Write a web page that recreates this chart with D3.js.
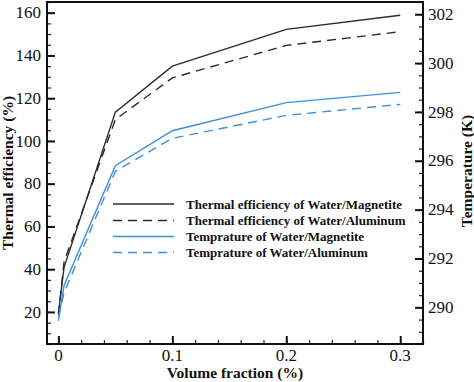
<!DOCTYPE html>
<html lang="en">
<head>
<meta charset="UTF-8">
<title>Thermal efficiency and temperature vs volume fraction</title>
<script src="https://cdn.jsdelivr.net/npm/d3@7"></script>
<style>
  body { margin: 0; background: #fff; }
</style>
</head>
<body>
<div id="chart"></div>
<script>
// values
const volumeFraction = [0, 0.005, 0.05, 0.1, 0.2, 0.3];
const effMagnetite = [19.5, 41, 113.5, 135, 152.2, 158.8];
const effAluminum = [18.5, 43.5, 110, 129.5, 144.7, 151.1];
const tempMagnetite = [289.45, 290.9, 295.8, 297.23, 298.38, 298.8];
const tempAluminum = [289.6, 290.6, 295.57, 296.92, 297.86, 298.31];

const xTicks = [0, 0.1, 0.2, 0.3];
const leftTicks = [20, 40, 60, 80, 100, 120, 140, 160];
const rightTicks = [290, 292, 294, 296, 298, 300, 302];

const legendLabels = [
  "Thermal efficiency of Water/Magnetite",
  "Thermal efficiency of Water/Aluminum",
  "Temprature of Water/Magnetite",
  "Temprature of Water/Aluminum"
];

let width = 474;
let height = 382;
let margin = { top: 2, right: 51, bottom: 38, left: 47 };

const serif = "'Liberation Serif', 'Times New Roman', Tinos, 'DejaVu Serif', serif";
const black = "#2b2b2b";
const blue = "#3f8fdc";

let x = d3.scaleLinear()
  .domain([-0.01, 0.32])
  .range([margin.left, width - margin.right]);

let yLeft = d3.scaleLinear()
  .domain([5, 165])
  .range([height - margin.bottom, margin.top]);

let yRight = d3.scaleLinear()
  .domain([288.5, 302.5])
  .range([height - margin.bottom, margin.top]);

let svg = d3.select("#chart")
  .append("svg")
  .attr("width", width)
  .attr("height", height)
  .attr("font-family", serif);

// minor ticks first, then the major ones on top
let xMinor = d3.range(0, 0.3201, 0.02);
let leftMinor = d3.range(5, 165.01, 5);
let rightMinor = d3.range(288.5, 302.51, 0.5);

svg.append("g")
  .attr("transform", `translate(0, ${height - margin.bottom})`)
  .call(d3.axisTop(x).tickValues(xMinor).tickSize(4).tickFormat(""))
  .call(g => g.select(".domain").remove())
  .selectAll("line").attr("stroke-width", 1.2).attr("stroke", "#222");

svg.append("g")
  .attr("transform", `translate(0, ${height - margin.bottom})`)
  .call(d3.axisTop(x).tickValues(xTicks).tickSize(8).tickFormat(""))
  .call(g => g.select(".domain").remove())
  .selectAll("line").attr("stroke-width", 2).attr("stroke", "#111");

svg.append("g")
  .attr("transform", `translate(${margin.left}, 0)`)
  .call(d3.axisRight(yLeft).tickValues(leftMinor).tickSize(4).tickFormat(""))
  .call(g => g.select(".domain").remove())
  .selectAll("line").attr("stroke-width", 1.2).attr("stroke", "#222");

svg.append("g")
  .attr("transform", `translate(${margin.left}, 0)`)
  .call(d3.axisRight(yLeft).tickValues(leftTicks).tickSize(8).tickFormat(""))
  .call(g => g.select(".domain").remove())
  .selectAll("line").attr("stroke-width", 2).attr("stroke", "#111");

svg.append("g")
  .attr("transform", `translate(${width - margin.right}, 0)`)
  .call(d3.axisLeft(yRight).tickValues(rightMinor).tickSize(4).tickFormat(""))
  .call(g => g.select(".domain").remove())
  .selectAll("line").attr("stroke-width", 1.2).attr("stroke", "#222");

svg.append("g")
  .attr("transform", `translate(${width - margin.right}, 0)`)
  .call(d3.axisLeft(yRight).tickValues(rightTicks).tickSize(8).tickFormat(""))
  .call(g => g.select(".domain").remove())
  .selectAll("line").attr("stroke-width", 2).attr("stroke", "#111");

// tick labels
svg.append("g").selectAll("text")
  .data(xTicks)
  .join("text")
  .attr("x", d => x(d))
  .attr("y", 361)
  .attr("text-anchor", "middle")
  .attr("font-family", serif)
  .attr("font-size", 17)
  .attr("fill", "#111")
  .text(d => d === 0 ? "0" : d3.format(".1f")(d));

svg.append("g").selectAll("text")
  .data(leftTicks)
  .join("text")
  .attr("x", 41)
  .attr("y", d => yLeft(d))
  .attr("dy", "0.33em")
  .attr("text-anchor", "end")
  .attr("font-family", serif)
  .attr("font-size", 17)
  .attr("fill", "#111")
  .text(d => d);

svg.append("g").selectAll("text")
  .data(rightTicks)
  .join("text")
  .attr("x", 428)
  .attr("y", d => yRight(d))
  .attr("dy", "0.33em")
  .attr("text-anchor", "start")
  .attr("font-family", serif)
  .attr("font-size", 17)
  .attr("fill", "#111")
  .text(d => d);

// axis titles
svg.append("text")
  .attr("x", x(0.155))
  .attr("y", 378)
  .attr("text-anchor", "middle")
  .attr("font-family", serif)
  .attr("font-size", 15.5)
  .attr("font-weight", "bold")
  .attr("fill", "#111")
  .text("Volume fraction (%)");

svg.append("text")
  .attr("transform", `translate(13, 173) rotate(-90)`)
  .attr("text-anchor", "middle")
  .attr("font-family", serif)
  .attr("font-size", 15.5)
  .attr("font-weight", "bold")
  .attr("fill", "#111")
  .text("Thermal efficiency (%)");

svg.append("text")
  .attr("transform", `translate(472, 171) rotate(-90)`)
  .attr("text-anchor", "middle")
  .attr("font-family", serif)
  .attr("font-size", 15.5)
  .attr("font-weight", "bold")
  .attr("fill", "#111")
  .text("Temperature (K)");

// series
let series = [
  { values: effMagnetite, scale: yLeft, color: black, dash: null },
  { values: effAluminum, scale: yLeft, color: black, dash: "9,6" },
  { values: tempMagnetite, scale: yRight, color: blue, dash: null },
  { values: tempAluminum, scale: yRight, color: blue, dash: "9,6" }
];

series.forEach(s => {
  let line = d3.line()
    .x((d, i) => x(volumeFraction[i]))
    .y(d => s.scale(d));
  svg.append("path")
    .datum(s.values)
    .attr("fill", "none")
    .attr("stroke", s.color)
    .attr("stroke-width", 1.4)
    .attr("stroke-dasharray", s.dash)
    .attr("d", line);
});

// legend
let legend = svg.append("g");
let rowY = [204, 220.5, 236.5, 252.5];
series.forEach((s, i) => {
  legend.append("line")
    .attr("x1", 113).attr("x2", 174)
    .attr("y1", rowY[i]).attr("y2", rowY[i])
    .attr("stroke", s.color)
    .attr("stroke-width", 1.6)
    .attr("stroke-dasharray", s.dash);
  legend.append("text")
    .attr("x", 186)
    .attr("y", rowY[i])
    .attr("dy", "0.35em")
    .attr("font-family", serif)
    .attr("font-size", 13)
    .attr("font-weight", "bold")
    .attr("fill", "#111")
    .text(legendLabels[i]);
});

// frame
svg.append("rect")
  .attr("x", margin.left)
  .attr("y", margin.top)
  .attr("width", width - margin.left - margin.right)
  .attr("height", height - margin.top - margin.bottom)
  .attr("fill", "none")
  .attr("stroke", "#111")
  .attr("stroke-width", 2);
</script>
</body>
</html>
